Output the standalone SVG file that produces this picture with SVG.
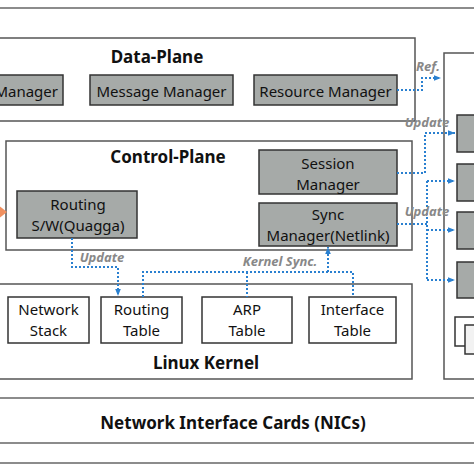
<svg xmlns="http://www.w3.org/2000/svg" width="474" height="474" viewBox="0 0 474 474">
<defs>
<style>
.frame{fill:#fff;stroke:#555;stroke-width:1.5}
.gbox{fill:#a6aaa8;stroke:#333;stroke-width:1.5}
.wbox{fill:#fff;stroke:#333;stroke-width:1.5}
.t{font-family:"Noto Sans","Open Sans",sans-serif;font-size:15px;fill:#111;text-anchor:middle}
.h{font-family:"Noto Sans","Open Sans",sans-serif;font-size:17px;font-weight:bold;fill:#111;text-anchor:middle}
.lbl{font-family:"Noto Sans","Open Sans",sans-serif;font-size:13px;font-weight:bold;font-style:italic;fill:#888;text-anchor:middle}
.c{fill:none;stroke:#2a80d0;stroke-width:2;stroke-dasharray:2 2}
.line{stroke:#666;stroke-width:1.5}
</style>
<marker id="ah" viewBox="0 0 10 10" refX="10" refY="5" markerWidth="7" markerHeight="7" orient="auto" markerUnits="userSpaceOnUse">
<path d="M0,1 L10,5 L0,9 z" fill="#2a80d0"/>
</marker>
</defs>
<rect width="474" height="474" fill="#fff"/>
<line class="line" x1="0" y1="8" x2="474" y2="8"/>

<g id="data-plane">
<rect class="frame" x="-5" y="38" width="420" height="83"/>
<text class="h" x="157" y="63">Data-Plane</text>
</g>
<g id="manager">
<rect class="gbox" x="-5" y="75" width="68" height="30"/>
<text class="t" x="58" y="97" style="text-anchor:end">Manager</text>
</g>
<g id="message-manager">
<rect class="gbox" x="90" y="75" width="143" height="30"/>
<text class="t" x="161.5" y="97">Message Manager</text>
</g>
<g id="resource-manager">
<rect class="gbox" x="254" y="75" width="143" height="30"/>
<text class="t" x="325.5" y="97">Resource Manager</text>
</g>

<g id="right-panel">
<rect class="frame" x="444" y="53" width="40" height="326"/>
<rect class="gbox" x="457" y="115" width="25" height="37"/>
<rect class="gbox" x="457" y="164" width="25" height="37"/>
<rect class="gbox" x="457" y="212" width="25" height="37"/>
<rect class="gbox" x="457" y="262" width="25" height="36"/>
<rect class="wbox" x="455" y="317" width="25" height="29"/>
<rect x="465" y="325" width="15" height="29" fill="#f2f2f2" stroke="#333" stroke-width="1.5"/>
</g>

<g id="control-plane">
<rect class="frame" x="6" y="141" width="406" height="109"/>
<text class="h" x="168" y="163">Control-Plane</text>
</g>
<g id="session-manager">
<rect class="gbox" x="259" y="150" width="138" height="44"/>
<text class="t" x="328" y="169">Session</text>
<text class="t" x="328" y="190">Manager</text>
</g>
<g id="sync-manager">
<rect class="gbox" x="259" y="203" width="138" height="43"/>
<text class="t" x="328" y="220">Sync</text>
<text class="t" x="328" y="241">Manager(Netlink)</text>
</g>
<g id="routing-sw">
<rect class="gbox" x="17" y="191" width="120" height="47"/>
<text class="t" x="78" y="210">Routing</text>
<text class="t" x="78" y="231">S/W(Quagga)</text>
</g>

<g id="linux-kernel">
<rect class="frame" x="-5" y="284" width="417" height="95"/>
<text class="h" x="206" y="369">Linux Kernel</text>
</g>
<g id="network-stack">
<rect class="wbox" x="8" y="297" width="81" height="46"/>
<text class="t" x="48.5" y="315">Network</text>
<text class="t" x="48.5" y="336">Stack</text>
</g>
<g id="routing-table">
<rect class="wbox" x="101" y="297" width="81" height="46"/>
<text class="t" x="141.5" y="315">Routing</text>
<text class="t" x="141.5" y="336">Table</text>
</g>
<g id="arp-table">
<rect class="wbox" x="202" y="297" width="90" height="46"/>
<text class="t" x="247" y="315">ARP</text>
<text class="t" x="247" y="336">Table</text>
</g>
<g id="interface-table">
<rect class="wbox" x="309" y="297" width="87" height="46"/>
<text class="t" x="352.5" y="315">Interface</text>
<text class="t" x="352.5" y="336">Table</text>
</g>

<g id="nics">
<line class="line" x1="0" y1="398" x2="474" y2="398"/>
<line class="line" x1="0" y1="443" x2="474" y2="443"/>
<text class="h" x="233" y="429">Network Interface Cards (NICs)</text>
</g>
<line class="line" x1="0" y1="463" x2="474" y2="463"/>

<g id="connectors">
<polyline class="c" points="397,90 422,90 422,78 441,78" marker-end="url(#ah)"/>
<polyline class="c" points="397,173 425,173 425,133 455,133" marker-end="url(#ah)"/>
<polyline class="c" points="397,224 427,224"/>
<line class="c" x1="427" y1="181" x2="427" y2="280"/>
<line class="c" x1="427" y1="181" x2="455" y2="181" marker-end="url(#ah)"/>
<line class="c" x1="427" y1="230" x2="455" y2="230" marker-end="url(#ah)"/>
<line class="c" x1="427" y1="280" x2="455" y2="280" marker-end="url(#ah)"/>
<polyline class="c" points="72,238 72,267 118,267 118,296" marker-end="url(#ah)"/>
<polyline class="c" points="143,297 143,272 353,272 353,297"/>
<line class="c" x1="247" y1="272" x2="247" y2="297"/>
<line class="c" x1="328" y1="272" x2="328" y2="247" marker-end="url(#ah)"/>
<polygon points="-2,205 7,212 -2,219" fill="#f09060"/>
<text class="lbl" x="428" y="71">Ref.</text>
<text class="lbl" x="427" y="127">Update</text>
<text class="lbl" x="427" y="216">Update</text>
<text class="lbl" x="102" y="262">Update</text>
<text class="lbl" x="280" y="266">Kernel Sync.</text>
</g>
</svg>
